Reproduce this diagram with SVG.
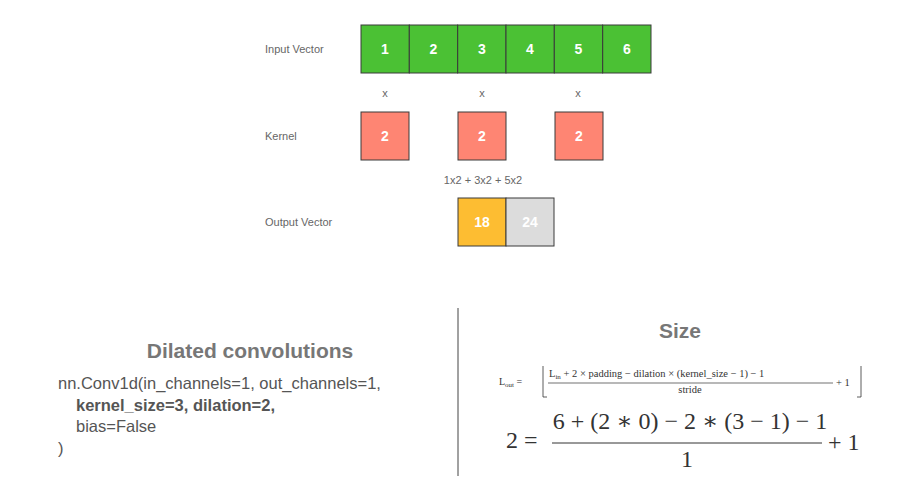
<svg xmlns="http://www.w3.org/2000/svg" width="900" height="480" viewBox="0 0 900 480">
<style>
.lbl{font-family:"Liberation Sans",Arial,sans-serif;font-size:11px;fill:#666}
.num{font-family:"Liberation Sans",Arial,sans-serif;font-size:14px;font-weight:bold;fill:#fff;text-anchor:middle}
.g{fill:#4bc134;stroke:#3a3a3a;stroke-width:1}
.k{fill:#fe8573;stroke:#3a3a3a;stroke-width:1}
.code{font-family:"Liberation Sans",Arial,sans-serif;font-size:16.5px;fill:#555}
.m{font-family:"Liberation Serif","DejaVu Serif",serif;fill:#333}
</style>
<rect width="900" height="480" fill="#fff"/>
<text class="lbl" x="265" y="53">Input Vector</text>
<text class="lbl" x="265" y="140">Kernel</text>
<text class="lbl" x="265" y="226">Output Vector</text>
<g id="input">
<rect class="g" x="361" y="25" width="48.3" height="48"/><text class="num" x="385" y="54">1</text>
<rect class="g" x="409.3" y="25" width="48.3" height="48"/><text class="num" x="433.5" y="54">2</text>
<rect class="g" x="457.7" y="25" width="48.3" height="48"/><text class="num" x="482" y="54">3</text>
<rect class="g" x="506" y="25" width="48.3" height="48"/><text class="num" x="530" y="54">4</text>
<rect class="g" x="554.3" y="25" width="48.3" height="48"/><text class="num" x="578.5" y="54">5</text>
<rect class="g" x="602.7" y="25" width="48.3" height="48"/><text class="num" x="627" y="54">6</text>
</g>
<g id="times" class="lbl" text-anchor="middle">
<text x="385" y="97">x</text><text x="482" y="97">x</text><text x="578" y="97">x</text>
</g>
<g id="kernel">
<rect class="k" x="361" y="112" width="48" height="48"/><text class="num" x="385" y="141">2</text>
<rect class="k" x="458" y="112" width="48" height="48"/><text class="num" x="482" y="141">2</text>
<rect class="k" x="555" y="112" width="48" height="48"/><text class="num" x="579" y="141">2</text>
</g>
<text class="lbl" x="483" y="184" text-anchor="middle">1x2 + 3x2 + 5x2</text>
<g id="output">
<rect x="458" y="198" width="48" height="48" fill="#fdbd32" stroke="#3a3a3a"/><text class="num" x="482" y="227">18</text>
<rect x="506" y="198" width="48" height="48" fill="#dcdcdc" stroke="#3a3a3a"/><text class="num" x="530" y="227">24</text>
</g>
<line x1="458" y1="308" x2="458" y2="476" stroke="#444" stroke-width="1"/>
<text x="250" y="358" text-anchor="middle" font-family="Liberation Sans,Arial,sans-serif" font-size="21" font-weight="bold" fill="#777">Dilated convolutions</text>
<text class="code" x="58" y="389">nn.Conv1d(in_channels=1, out_channels=1,</text>
<text class="code" x="76" y="411" font-weight="bold">kernel_size=3, dilation=2,</text>
<text class="code" x="76" y="432">bias=False</text>
<text class="code" x="58" y="454">)</text>
<text x="680" y="338" text-anchor="middle" font-family="Liberation Sans,Arial,sans-serif" font-size="21" font-weight="bold" fill="#777">Size</text>
<g id="formula1" class="m">
<text x="499" y="385" font-size="10">L<tspan font-size="7" dy="2">out</tspan><tspan dy="-2"> =</tspan></text>
<path d="M543 366 V397 H547 M861 366 V397 H857" fill="none" stroke="#333" stroke-width="0.8"/>
<text x="549" y="377" font-size="10.5">L<tspan font-size="7" dy="2">in</tspan><tspan dy="-2"> + 2 × padding − dilation × (kernel_size − 1) − 1</tspan></text>
<line x1="548" y1="383" x2="833" y2="383" stroke="#333" stroke-width="0.7"/>
<text x="690" y="393" font-size="10.5" text-anchor="middle">stride</text>
<text x="836" y="386" font-size="10.5">+ 1</text>
</g>
<g id="formula2" class="m" font-size="24">
<text x="506" y="448">2 =</text>
<text x="690" y="429" text-anchor="middle">6 + (2 ∗ 0) − 2 ∗ (3 − 1) − 1</text>
<line x1="552" y1="443" x2="822" y2="443" stroke="#333" stroke-width="1"/>
<text x="687" y="467" text-anchor="middle">1</text>
<text x="828" y="450">+ 1</text>
</g>
</svg>
